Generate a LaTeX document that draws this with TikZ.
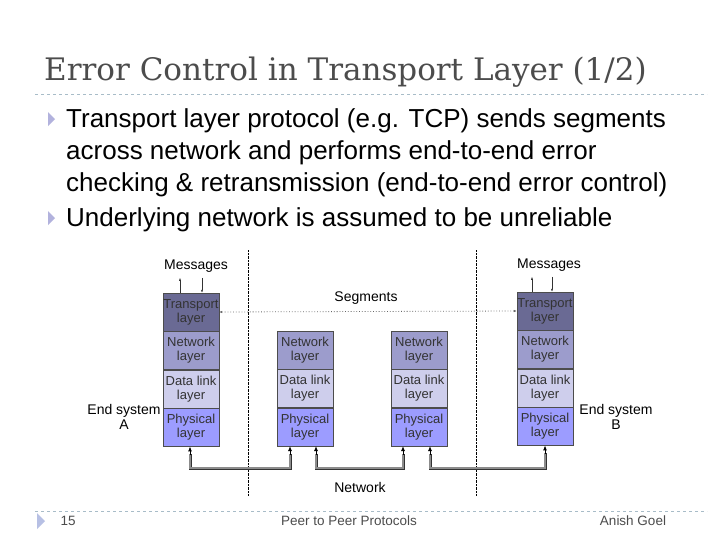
\documentclass[tikz,border=0pt]{standalone}
\usepackage{fontspec}
\setmainfont{Liberation Sans}
\newfontfamily\titlefont{DejaVu Serif}
\usetikzlibrary{arrows.meta,positioning}
\definecolor{trans}{HTML}{6A6A94}
\definecolor{netw}{HTML}{9C9CCC}
\definecolor{dlink}{HTML}{CECEEC}
\definecolor{phys}{HTML}{9C9CFF}
\definecolor{rulec}{HTML}{A8BCC8}
\begin{document}
\begin{tikzpicture}[x=1pt,y=-1pt]

\tikzset{layer/.style = {draw=black!70,minimum width=56pt,minimum height=38pt,inner sep=0pt,align=center,font=\fontsize{13}{14}\selectfont,text=black!80}}
\tikzset{lbl/.style = {font=\fontsize{14}{14.5}\selectfont,align=center}}
\tikzset{bul/.style = {anchor=base west,inner sep=0pt,font=\fontsize{26}{26}\selectfont}}
\tikzset{msg/.style = {-{Latex[length=3pt,width=2pt]},black!80}}
\tikzset{link/.style = {double=black!45,double distance=1.8pt,draw=black!80,line width=0.6pt}}
\tikzset{tip/.style = {-{Latex[length=5pt,width=4pt]},line width=0.9pt}}
% page
\useasboundingbox[fill=white] (0,0) rectangle (728,546);
\node[anchor=base west,inner sep=0pt,text=black!70,font=\titlefont\fontsize{31}{31}\selectfont] (title) at (44,80) {Error Control in Transport Layer (1/2)};
\draw[rulec,dashed] (35,94) -- (707,94);
% bullets
\foreach \y in {119,218} \fill[black!45!blue!30] (48,\y-7) -- (55,\y) -- (48,\y+7) -- cycle;
\node[bul] (t1) at (66,127) {Transport layer protocol (e.g. TCP) sends segments};
\node[bul] (t2) at (66,159) {across network and performs end-to-end error};
\node[bul] (t3) at (66,191) {checking \& retransmission (end-to-end error control)};
\node[bul] (t4) at (66,226) {Underlying network is assumed to be unreliable};

% stacks
\node[layer,fill=trans] (ta) at (191,312) {Transport\\layer};
\node[layer,fill=netw,below=0pt of ta] (na) {Network\\layer};
\node[layer,fill=dlink,below=0pt of na] (da) {Data link\\layer};
\node[layer,fill=phys,below=0pt of da] (pa) {Physical\\layer};

\node[layer,fill=netw] (n1) at (305,350) {Network\\layer};
\node[layer,fill=dlink,below=0pt of n1] (d1) {Data link\\layer};
\node[layer,fill=phys,below=0pt of d1] (p1) {Physical\\layer};

\node[layer,fill=netw] (n2) at (419,350) {Network\\layer};
\node[layer,fill=dlink,below=0pt of n2] (d2) {Data link\\layer};
\node[layer,fill=phys,below=0pt of d2] (p2) {Physical\\layer};

\node[layer,fill=trans] (tb) at (545,311) {Transport\\layer};
\node[layer,fill=netw,below=0pt of tb] (nb) {Network\\layer};
\node[layer,fill=dlink,below=0pt of nb] (db) {Data link\\layer};
\node[layer,fill=phys,below=0pt of db] (pb) {Physical\\layer};

% labels
\node[lbl] (ma) at (196,266) {Messages};
\node[lbl] (mb) at (549,265) {Messages};
\node[lbl] (seg) at (366,298) {Segments};
\node[lbl] (net) at (360,487) {Network};
\node[lbl] (esa) at (124,417) {End system\\A};
\node[lbl] (esb) at (616,417) {End system\\B};

% messages
\draw[msg] ([xshift=-11pt]ta.north) -- ++(0,-15);
\draw[msg] ([xshift=11pt,yshift=15pt]ta.north) -- ([xshift=11pt]ta.north);
\draw[msg] ([xshift=-13pt]tb.north) -- ++(0,-15);
\draw[msg] ([xshift=7pt,yshift=15pt]tb.north) -- ([xshift=7pt]tb.north);
\draw[black!60,dotted,thick,{Latex[length=3pt,width=2.5pt]}-{Latex[length=3pt,width=2.5pt]}] (ta.east) -- (tb.west);

% separators
\draw[densely dotted] (248,250) -- (248,496);
\draw[densely dotted] (476,250) -- (476,496);

% network links
\coordinate (l1) at (0,468);
\draw[link] ([xshift=-1pt,yshift=-8pt]pa.south) -- ([xshift=-1pt]pa.south |- l1) -- ([xshift=-15pt]p1.south |- l1) -- ([xshift=-15pt,yshift=-8pt]p1.south);
\draw[link] ([xshift=11pt,yshift=-8pt]p1.south) -- ([xshift=11pt]p1.south |- l1) -- ([xshift=-16pt]p2.south |- l1) -- ([xshift=-16pt,yshift=-8pt]p2.south);
\draw[link] ([xshift=11pt,yshift=-8pt]p2.south) -- ([xshift=11pt]p2.south |- l1) -- (pb.south |- l1) -- ([yshift=-8pt]pb.south);
\foreach \n/\s in {pa/-1,p1/-15,p1/11,p2/-16,p2/11,pb/0}
  \draw[tip] ([xshift=\s pt,yshift=-9pt]\n.south) -- ([xshift=\s pt]\n.south);

% footer
\draw[rulec,dashed] (35,511) -- (707,511);
\fill[rulec!80!blue!60] (37,513) -- (45,521) -- (37,529) -- cycle;
\node[anchor=west,text=black!70,font=\fontsize{13.5}{14}\selectfont] (pg) at (57,521) {15};
\node[text=black!70,font=\fontsize{13.5}{14}\selectfont] (ft) at (349,521) {Peer to Peer Protocols};
\node[text=black!70,font=\fontsize{13.5}{14}\selectfont] (au) at (633,521) {Anish Goel};

\end{tikzpicture}
\end{document}
